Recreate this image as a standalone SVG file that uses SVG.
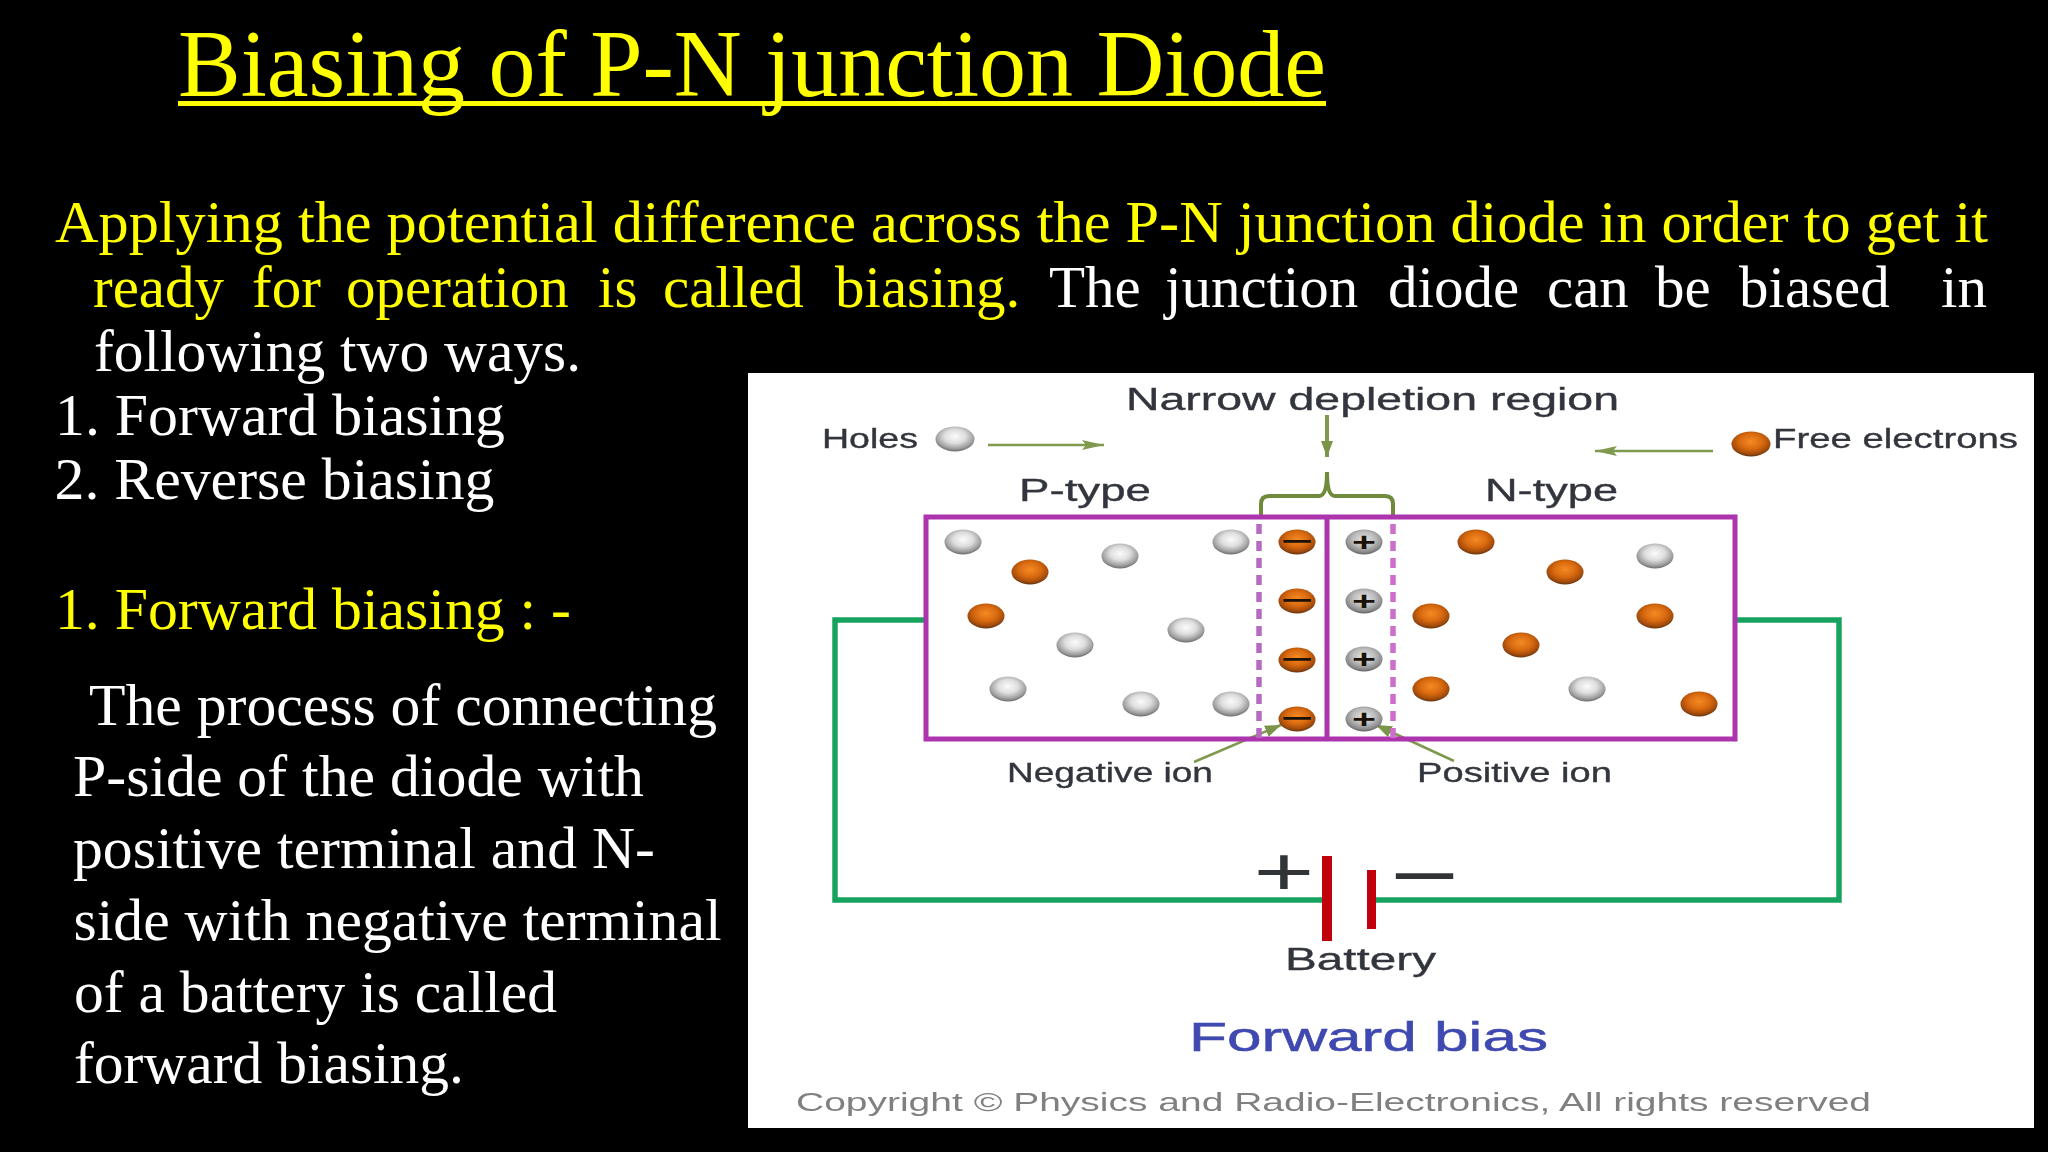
<svg xmlns="http://www.w3.org/2000/svg" width="2048" height="1152" viewBox="0 0 2048 1152">
<defs>
<radialGradient id="gr" cx="50%" cy="40%" r="60%"><stop offset="0" stop-color="#fbfbfb"/><stop offset="0.45" stop-color="#dedede"/><stop offset="0.8" stop-color="#a0a0a0"/><stop offset="1" stop-color="#6c6c6c"/></radialGradient>
<radialGradient id="gi" cx="50%" cy="40%" r="60%"><stop offset="0" stop-color="#e4e4e4"/><stop offset="0.5" stop-color="#bdbdbd"/><stop offset="0.85" stop-color="#888888"/><stop offset="1" stop-color="#626262"/></radialGradient>
<radialGradient id="or" cx="50%" cy="40%" r="60%"><stop offset="0" stop-color="#f58a24"/><stop offset="0.5" stop-color="#d96a10"/><stop offset="0.82" stop-color="#a54c0a"/><stop offset="1" stop-color="#643410"/></radialGradient>
<marker id="ah" markerUnits="userSpaceOnUse" viewBox="0 0 22 10" refX="22" refY="5" markerWidth="22" markerHeight="10" orient="auto"><path d="M0 0L22 5L0 10L4 5Z" fill="#80994f"/></marker>
<marker id="ad" markerUnits="userSpaceOnUse" viewBox="0 0 16 12" refX="16" refY="6" markerWidth="16" markerHeight="12" orient="auto"><path d="M0 0L16 6L0 12Z" fill="#7a9448"/></marker>
<filter id="soft" x="-5%" y="-5%" width="110%" height="110%"><feGaussianBlur stdDeviation="0.6"/></filter>
</defs>
<style>
.s{font-family:"Liberation Serif","Times New Roman",serif;font-size:59px}
.y{fill:#ffff00}.w{fill:#ffffff}
.d{font-family:"Liberation Sans",Arial,sans-serif;fill:#33363c;stroke:#33363c;stroke-width:0.35}
.l{font-size:27px}.m{font-size:32px}
.gb{fill:url(#gr)}.ob{fill:url(#or)}.ib{fill:url(#gi)}
.box{fill:none;stroke:#ac35ae;stroke-width:5}
.dash{fill:none;stroke-width:5.5;stroke-dasharray:10 7}
.wire{fill:none;stroke:#18a35e;stroke-width:5.500}
.arr{fill:none;stroke:#80994f;stroke-width:2.500}
.plate{fill:none;stroke:#c00010;stroke-width:10}
.ion{font-family:"Liberation Sans",Arial,sans-serif;font-weight:bold;font-size:26px;fill:#1a1208}
.sym{font-family:"Liberation Sans",Arial,sans-serif;fill:#333538}
</style>
<rect id="background" width="2048" height="1152" fill="#000000"/>
<g id="title"><text class="s y" x="178" y="96" style="font-size:95px" textLength="1148" lengthAdjust="spacingAndGlyphs">Biasing of P-N junction Diode</text><path d="M178 103.500H1326" stroke="#ffff00" stroke-width="5"/></g>
<g id="intro">
<text class="s y" x="55" y="242" textLength="1933" lengthAdjust="spacingAndGlyphs">Applying the potential difference across the P-N junction diode in order to get it</text>
<text class="s y" y="307"><tspan x="93">ready</tspan><tspan x="252">for</tspan><tspan x="346">operation</tspan><tspan x="598">is</tspan><tspan x="663">called</tspan><tspan x="835">biasing.</tspan></text>
<text class="s w" y="307"><tspan x="1049">The</tspan><tspan x="1165">junction</tspan><tspan x="1388">diode</tspan><tspan x="1547">can</tspan><tspan x="1655">be</tspan><tspan x="1739">biased</tspan><tspan x="1941">in</tspan></text>
<text class="s w" x="94" y="371" textLength="487" lengthAdjust="spacingAndGlyphs">following two ways.</text>
<text class="s w" x="55" y="435" textLength="450" lengthAdjust="spacingAndGlyphs">1. Forward biasing</text>
<text class="s w" x="54.500" y="499" textLength="440" lengthAdjust="spacingAndGlyphs">2. Reverse biasing</text>
</g>
<g id="heading"><text class="s y" x="55" y="629" textLength="516" lengthAdjust="spacingAndGlyphs">1. Forward biasing : -</text></g>
<g id="definition">
<text class="s w" x="89" y="725" textLength="628" lengthAdjust="spacingAndGlyphs">The process of connecting</text>
<text class="s w" x="73" y="796" textLength="571" lengthAdjust="spacingAndGlyphs">P-side of the diode with</text>
<text class="s w" x="73" y="868" textLength="582" lengthAdjust="spacingAndGlyphs">positive terminal and N-</text>
<text class="s w" x="73.500" y="940" textLength="648" lengthAdjust="spacingAndGlyphs">side with negative terminal</text>
<text class="s w" x="74" y="1012" textLength="483" lengthAdjust="spacingAndGlyphs">of a battery is called</text>
<text class="s w" x="74" y="1083" textLength="390" lengthAdjust="spacingAndGlyphs">forward biasing.</text>
</g>
<rect id="panel" x="748" y="373" width="1286" height="755" fill="#ffffff"/>
<g id="connectors" filter="url(#soft)">
<path class="wire" d="M926 620H835V900H1325"/>
<path class="wire" d="M1735 620H1839V900H1370"/>
<path class="arr" d="M988 445H1104" marker-end="url(#ah)"/>
<path class="arr" d="M1713 451H1595" marker-end="url(#ah)"/>
<path class="arr" d="M1327 415V457" style="stroke-width:4" marker-end="url(#ad)"/>
<path class="arr" d="M1194 762L1281 725" marker-end="url(#ad)"/>
<path class="arr" d="M1454 761L1376 725" marker-end="url(#ad)"/>
<path d="M1261 517V504Q1261 496 1269 496H1319Q1327 496 1327 472Q1327 496 1335 496H1385Q1393 496 1393 504V517" fill="none" stroke="#6f8a3a" stroke-width="4"/>
</g>
<g id="junction" filter="url(#soft)">
<rect class="box" x="926" y="517" width="809" height="222"/>
<path class="box" d="M1327 517V739"/>
<path class="dash" stroke="#b56cc0" d="M1259 524V739"/>
<path class="dash" stroke="#cc6ecc" d="M1393 524V739"/>
</g>
<g id="holes-p" filter="url(#soft)">
<ellipse class="gb" cx="963" cy="542" rx="18.500" ry="12.500"/><ellipse class="gb" cx="1120" cy="556" rx="18.500" ry="12.500"/><ellipse class="gb" cx="1231" cy="542" rx="18.500" ry="12.500"/><ellipse class="gb" cx="1186" cy="630" rx="18.500" ry="12.500"/><ellipse class="gb" cx="1075" cy="645" rx="18.500" ry="12.500"/><ellipse class="gb" cx="1008" cy="689" rx="18.500" ry="12.500"/><ellipse class="gb" cx="1141" cy="704" rx="18.500" ry="12.500"/><ellipse class="gb" cx="1231" cy="704" rx="18.500" ry="12.500"/>
<ellipse class="ob" cx="1030" cy="572" rx="18.500" ry="12.500"/><ellipse class="ob" cx="986" cy="616" rx="18.500" ry="12.500"/>
</g>
<g id="electrons-n" filter="url(#soft)">
<ellipse class="ob" cx="1476" cy="542" rx="18.500" ry="12.500"/><ellipse class="ob" cx="1565" cy="572" rx="18.500" ry="12.500"/><ellipse class="ob" cx="1431" cy="616" rx="18.500" ry="12.500"/><ellipse class="ob" cx="1655" cy="616" rx="18.500" ry="12.500"/><ellipse class="ob" cx="1521" cy="645" rx="18.500" ry="12.500"/><ellipse class="ob" cx="1431" cy="689" rx="18.500" ry="12.500"/><ellipse class="ob" cx="1699" cy="704" rx="18.500" ry="12.500"/>
<ellipse class="gb" cx="1655" cy="556" rx="18.500" ry="12.500"/><ellipse class="gb" cx="1587" cy="689" rx="18.500" ry="12.500"/>
</g>
<g id="negative-ions">
<g filter="url(#soft)"><ellipse class="ob" cx="1297" cy="542" rx="18.500" ry="12.500"/><ellipse class="ob" cx="1297" cy="601" rx="18.500" ry="12.500"/><ellipse class="ob" cx="1297" cy="660" rx="18.500" ry="12.500"/><ellipse class="ob" cx="1297" cy="719" rx="18.500" ry="12.500"/></g>
<text class="ion" x="1281" y="550" textLength="32" lengthAdjust="spacingAndGlyphs">−</text>
<text class="ion" x="1281" y="609" textLength="32" lengthAdjust="spacingAndGlyphs">−</text>
<text class="ion" x="1281" y="668" textLength="32" lengthAdjust="spacingAndGlyphs">−</text>
<text class="ion" x="1281" y="727" textLength="32" lengthAdjust="spacingAndGlyphs">−</text>
</g>
<g id="positive-ions">
<g filter="url(#soft)"><ellipse class="ib" cx="1364" cy="542" rx="18.500" ry="12.500"/><ellipse class="ib" cx="1364" cy="601" rx="18.500" ry="12.500"/><ellipse class="ib" cx="1364" cy="659" rx="18.500" ry="12.500"/><ellipse class="ib" cx="1364" cy="719" rx="18.500" ry="12.500"/></g>
<text class="ion" x="1352" y="551" textLength="24" lengthAdjust="spacingAndGlyphs">+</text>
<text class="ion" x="1352" y="610" textLength="24" lengthAdjust="spacingAndGlyphs">+</text>
<text class="ion" x="1352" y="668" textLength="24" lengthAdjust="spacingAndGlyphs">+</text>
<text class="ion" x="1352" y="728" textLength="24" lengthAdjust="spacingAndGlyphs">+</text>
</g>
<g id="battery" filter="url(#soft)">
<path class="plate" d="M1327 856V941"/>
<path class="plate" style="stroke-width:9" d="M1371.500 870V929"/>
<text class="sym" x="1253.600" y="895" style="font-size:68px" textLength="60.800" lengthAdjust="spacingAndGlyphs">+</text>
<text class="sym" x="1390" y="903" style="font-size:80px" textLength="69" lengthAdjust="spacingAndGlyphs">−</text>
<text class="d m" x="1285" y="970" textLength="151" lengthAdjust="spacingAndGlyphs">Battery</text>
</g>
<g id="legend-holes" filter="url(#soft)"><text class="d l" x="822" y="448" textLength="96" lengthAdjust="spacingAndGlyphs">Holes</text><ellipse class="gb" cx="955" cy="439" rx="19.500" ry="12.500"/></g>
<g id="legend-electrons" filter="url(#soft)"><ellipse class="ob" cx="1751" cy="444" rx="19.500" ry="12.500"/><text class="d l" x="1773" y="448" textLength="245" lengthAdjust="spacingAndGlyphs">Free electrons</text></g>
<g id="labels" filter="url(#soft)">
<text class="d" x="1126" y="410" style="font-size:31px" textLength="493" lengthAdjust="spacingAndGlyphs">Narrow depletion region</text>
<text class="d m" x="1019" y="501" textLength="132" lengthAdjust="spacingAndGlyphs">P-type</text>
<text class="d m" x="1485" y="501" textLength="133" lengthAdjust="spacingAndGlyphs">N-type</text>
<text class="d l" x="1007" y="782" textLength="206" lengthAdjust="spacingAndGlyphs">Negative ion</text>
<text class="d l" x="1417" y="782" textLength="195" lengthAdjust="spacingAndGlyphs">Positive ion</text>
<text x="1189" y="1051" style="font-family:'Liberation Sans',Arial,sans-serif;font-size:40px;fill:#3f48b0;stroke:#3f48b0;stroke-width:0.5" textLength="359" lengthAdjust="spacingAndGlyphs">Forward bias</text>
<text x="796" y="1111" style="font-family:'Liberation Sans',Arial,sans-serif;font-size:26px;fill:#808080" textLength="1075" lengthAdjust="spacingAndGlyphs">Copyright © Physics and Radio-Electronics, All rights reserved</text>
</g>
</svg>
